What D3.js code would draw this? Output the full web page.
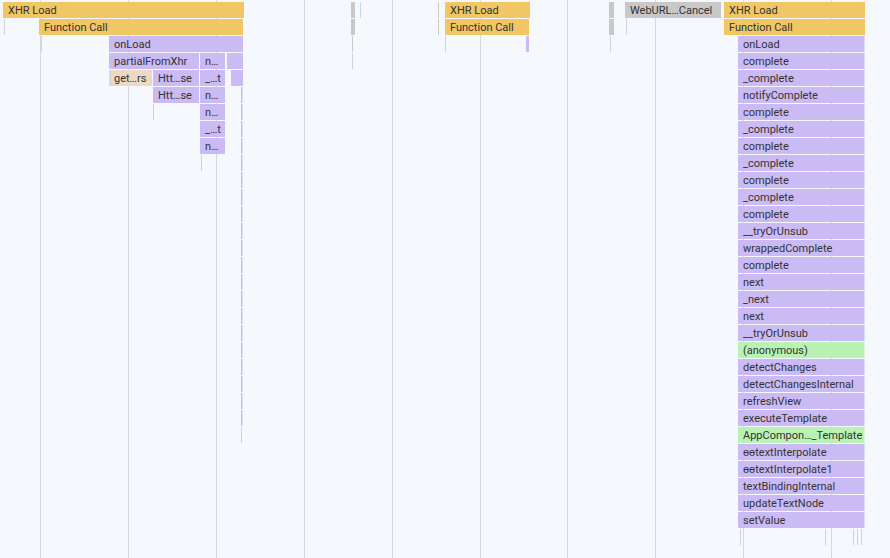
<!DOCTYPE html>
<html>
<head>
<meta charset="utf-8">
<script src="https://cdn.jsdelivr.net/npm/d3@7"></script>
<style>
  body { margin: 0; background: #f5f8fd; }
  text { font-family: Roboto, sans-serif; font-size: 11px; fill: #333; }
</style>
</head>
<body>
<div id="chart"></div>
<script>
// Trace events: [name, start(ms), end(ms), depth, kind]
let names = ["XHR Load", "Function Call", "onLoad", "partialFromXhr", "n…", "", "get…rs", "Htt…se", "_…t", "",
  "Htt…se", "n…", "n…", "_…t", "n…"];
let starts = [3, 39, 109, 109, 200, 227, 109, 153, 200, 231, 153, 200, 200, 200, 200];
let ends = [245, 244, 244, 200, 226, 244, 153, 200, 226, 244, 200, 226, 226, 226, 226];
let depths = [0, 1, 2, 3, 3, 3, 4, 4, 4, 4, 5, 5, 6, 7, 8];
let kinds = ["xhr", "xhr", "js", "js", "js", "js", "parse", "js", "js", "js", "js", "js", "js", "js", "js"];

// thin recursion tail on the left stack (depth 5..24)
let tailDepths = [5, 6, 7, 8, 9, 10, 11, 12, 13, 14, 15, 16, 17, 18, 19, 20, 21, 22, 23, 24];

// middle and right groups
let midNames = ["", "", "", "", "", "", "XHR Load", "Function Call", ""];
let midStarts = [351, 351, 352, 438, 438, 360, 445, 445, 526];
let midEnds = [356, 356, 353, 440, 440, 361, 531, 530, 530];
let midDepths = [0, 1, 2, 0, 1, 0, 0, 1, 2];
let midKinds = ["other", "other", "other", "other", "other", "idle", "xhr", "xhr", "js"];

let rightNames = ["", "", "WebURL…Cancel", "XHR Load", "Function Call"];
let rightStarts = [609, 609, 625, 724, 724];
let rightEnds = [615, 615, 722, 866, 866];
let rightDepths = [0, 1, 0, 0, 1];
let rightKinds = ["other", "other", "other", "xhr", "xhr"];

let stackNames = ["onLoad", "complete", "_complete", "notifyComplete", "complete", "_complete", "complete",
  "_complete", "complete", "_complete", "complete", "__tryOrUnsub", "wrappedComplete", "complete", "next",
  "_next", "next", "__tryOrUnsub", "(anonymous)", "detectChanges", "detectChangesInternal", "refreshView",
  "executeTemplate", "AppCompon…_Template", "ɵɵtextInterpolate", "ɵɵtextInterpolate1", "textBindingInternal",
  "updateTextNode", "setValue"];
let stackKinds = stackNames.map(n => (n === "(anonymous)" || n === "AppCompon…_Template") ? "green" : "js");

let gridTimes = [40, 128, 216, 304, 392, 480, 567, 655, 743, 831];

let colors = { xhr: "#f1c664", js: "#cbbbf5", parse: "#eed9c4", other: "#c8c8c8", green: "#b9f2b3", idle: "#c5d7f0" };

let events = [];
names.forEach((n, i) => events.push({ name: n, s: starts[i], e: ends[i], d: depths[i], k: kinds[i] }));
tailDepths.forEach(d => events.push({ name: "", s: 241, e: 243.5, d: d, k: "js" }));
midNames.forEach((n, i) => events.push({ name: n, s: midStarts[i], e: midEnds[i], d: midDepths[i], k: midKinds[i] }));
rightNames.forEach((n, i) => events.push({ name: n, s: rightStarts[i], e: rightEnds[i], d: rightDepths[i], k: rightKinds[i] }));
stackNames.forEach((n, i) => events.push({ name: n, s: 738, e: 865.5, d: i + 2, k: stackKinds[i] }));

let width = 890, height = 558, rowH = 17;
let svg = d3.select("#chart").append("svg").attr("width", width).attr("height", height);

let x = d3.scaleLinear().domain([0, 890]).range([0, width]);
let y = d => 2 + d * rowH;

// grid lines
svg.selectAll(".grid").data(gridTimes).enter().append("line")
  .attr("x1", d => x(d) + 0.5).attr("x2", d => x(d) + 0.5)
  .attr("y1", 0).attr("y2", height)
  .attr("stroke", "#d6d9de").attr("stroke-width", 1);

let g = svg.selectAll(".ev").data(events).enter().append("g");
g.append("rect")
  .attr("x", d => x(d.s)).attr("y", d => y(d.d))
  .attr("width", d => Math.max(1, x(d.e) - x(d.s) - 1)).attr("height", rowH - 1)
  .attr("fill", d => colors[d.k]);
g.filter(d => d.name).append("text")
  .attr("x", d => x(d.s) + 5).attr("y", d => y(d.d) + 12)
  .text(d => d.name);

// short idle stubs under stacks
let stubs = [[4, 1], [41, 2], [110, 4], [153, 6], [201, 9], [241, 25], [352, 3], [445, 2], [610, 2], [626, 1], [740, 31], [825, 31], [853, 31], [857, 31], [861, 31]];
svg.selectAll(".stub").data(stubs).enter().append("line")
  .attr("x1", d => x(d[0]) + 0.5).attr("x2", d => x(d[0]) + 0.5)
  .attr("y1", d => y(d[1])).attr("y2", d => y(d[1]) + rowH - 1)
  .attr("stroke", "#d0d3d8");
</script>
</body>
</html>
